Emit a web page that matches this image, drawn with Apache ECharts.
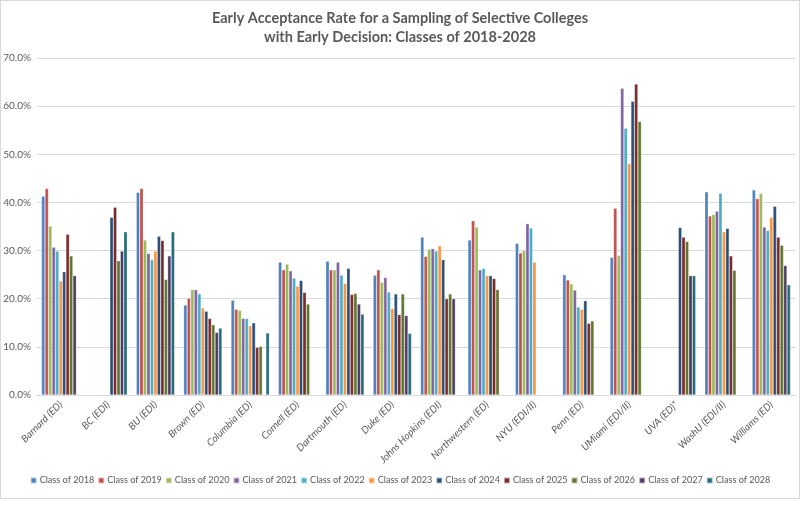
<!DOCTYPE html>
<html>
<head>
<meta charset="utf-8">
<script src="https://cdn.jsdelivr.net/npm/echarts@6/dist/echarts.min.js"></script>
<style>
html,body{margin:0;padding:0;background:#fff;}
#c{position:absolute;left:0;top:0;width:798px;height:497px;border:1px solid #d9d9d9;}
</style>
</head>
<body>
<div id="c"></div>
<script>
const categories = ["Barnard (ED)","BC (EDI)","BU (EDI)","Brown (ED)","Columbia (ED)","Cornell (ED)","Dartmouth (ED)","Duke (ED)","Johns Hopkins (EDI)","Northwestern (ED)","NYU (EDI/II)","Penn (ED)","UMiami (EDI/II)","UVA (ED)*","WashU (EDI/II)","Williams (ED)"];
const seriesNames = ["Class of 2018","Class of 2019","Class of 2020","Class of 2021","Class of 2022","Class of 2023","Class of 2024","Class of 2025","Class of 2026","Class of 2027","Class of 2028"];
const colors = ["#4F81BD","#C0504D","#9BBB59","#8064A2","#4BACC6","#F79646","#2C4D75","#772C2A","#5F7530","#4D3B62","#276A7C"];
const yTicks = {min:0, max:0.7, interval:0.1};

const class2018 = [0.413,null,0.421,0.187,0.197,0.276,0.278,0.249,0.328,0.322,0.315,0.250,0.286,null,0.422,0.426];
const class2019 = [0.429,null,0.429,0.201,0.178,0.260,0.260,0.260,0.288,0.362,0.295,0.239,0.388,null,0.372,0.408];
const class2020 = [0.351,null,0.322,0.219,0.176,0.272,0.260,0.234,0.303,0.349,0.300,0.231,0.290,null,0.375,0.419];
const class2021 = [0.307,null,0.294,0.219,0.159,0.258,0.276,0.244,0.304,0.260,0.356,0.218,0.637,null,0.382,0.349];
const class2022 = [0.299,null,0.281,0.210,0.159,0.243,0.249,0.214,0.299,0.263,0.347,0.183,0.554,null,0.419,0.342];
const class2023 = [0.237,null,0.299,0.181,0.144,0.226,0.232,0.180,0.310,0.248,0.276,0.178,0.481,null,0.339,0.369];
const class2024 = [0.256,0.369,0.330,0.174,0.150,0.238,0.263,0.210,0.281,0.248,null,0.196,0.610,0.348,0.346,0.392];
const class2025 = [0.334,0.390,0.321,0.159,0.099,0.213,0.209,0.167,0.200,0.242,null,0.149,0.646,0.328,0.289,0.328];
const class2026 = [0.289,0.279,0.240,0.146,0.101,0.189,0.211,0.210,0.210,0.219,null,0.154,0.568,0.319,0.259,0.311];
const class2027 = [0.248,0.299,0.289,0.130,null,null,0.189,0.165,0.200,null,null,null,null,0.248,null,0.269];
const class2028 = [null,0.339,0.339,0.139,0.129,null,0.168,0.128,null,null,null,null,null,0.248,null,0.229];
const values = [class2018,class2019,class2020,class2021,class2022,class2023,class2024,class2025,class2026,class2027,class2028];

const FONT = 'Lato';
const chart = echarts.init(document.getElementById('c'));
chart.setOption({
  animation:false,
  color: colors,
  title:{
    text:'Early Acceptance Rate for a Sampling of Selective Colleges\nwith Early Decision: Classes of 2018-2028',
    left:'center', top:3,
    textStyle:{fontFamily:FONT,fontSize:14.5,fontWeight:'bold',color:'#595959',lineHeight:19}
  },
  legend:{
    bottom:8, left:'center', itemWidth:6, itemHeight:6, itemGap:3,
    icon:'rect',
    textStyle:{fontFamily:FONT,fontSize:9.1,color:'#595959',padding:[0,0,0,-2]},
    data: seriesNames
  },
  grid:{left:36,right:4,top:57,bottom:103,outerBoundsMode:'none',containLabel:false},
  xAxis:{
    type:'category', data:categories,
    axisLine:{lineStyle:{color:'#d9d9d9'}},
    axisTick:{show:false},
    axisLabel:{rotate:45,interval:0,fontFamily:FONT,fontSize:10,fontStyle:'italic',color:'#595959',margin:8}
  },
  yAxis:{
    type:'value', min:yTicks.min, max:yTicks.max, interval:yTicks.interval,
    axisLine:{show:false}, axisTick:{show:false},
    splitLine:{lineStyle:{color:'#d9d9d9'}},
    axisLabel:{fontFamily:FONT,fontSize:10,color:'#595959',margin:6,formatter:v=>(v*100).toFixed(1)+'%'}
  },
  series: seriesNames.map((n,i)=>({
    name:n, type:'bar', data:values[i],
    barGap:'0%', barCategoryGap:'19%',
    itemStyle:{color:colors[i],borderColor:'rgba(255,255,255,0.6)',borderWidth:0.5}
  }))
});
</script>
</body>
</html>
